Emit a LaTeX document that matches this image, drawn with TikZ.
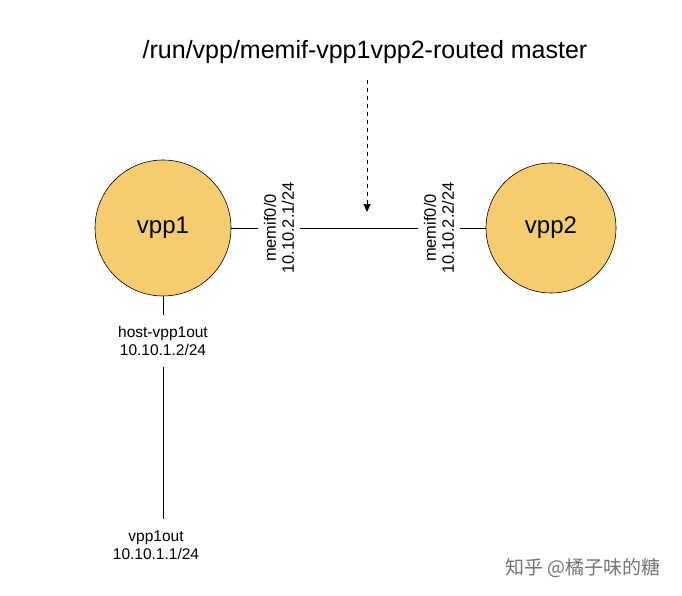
\documentclass[tikz,border=0pt]{standalone}
\usepackage{fontspec}
\setmainfont{Liberation Sans}
\newfontfamily\cjk{Noto Sans CJK SC}
\usetikzlibrary{arrows.meta}
\begin{document}
\begin{tikzpicture}[x=1pt,y=-1pt,
  dev/.style={circle,draw=black,line width=0.6pt,fill={rgb,255:red,245;green,205;blue,110},minimum size=136pt,font=\fontsize{24}{28}\selectfont},
  lbl/.style={fill=white,align=center,inner sep=2pt},
  ln/.style={line width=0.7pt}]
\useasboundingbox (0,0) rectangle (682,596);
\node[dev] (v1) at (163,228) {vpp1};
\node[dev,minimum size=130pt] (v2) at (551,228) {vpp2};
\node[lbl,rotate=90,minimum width=103pt,minimum height=42pt,font=\fontsize{16.5}{18}\selectfont] (m1) at (279,228) {memif0/0\\10.10.2.1/24};
\node[lbl,rotate=90,minimum width=103pt,minimum height=42pt,font=\fontsize{16.5}{18}\selectfont] (m2) at (439,228) {memif0/0\\10.10.2.2/24};
\node[lbl,minimum width=128pt,minimum height=52pt,font=\fontsize{15.5}{18}\selectfont] (h) at (163,341) {host-vpp1out\\10.10.1.2/24};
\node[lbl,minimum width=118pt,minimum height=52pt,font=\fontsize{15.5}{18}\selectfont] (o) at (156,545) {vpp1out\\10.10.1.1/24};
\node[font=\fontsize{25}{28}\selectfont] (t) at (365,52) {/run/vpp/memif-vpp1vpp2-routed master};
\coordinate (a) at (367,212);
\coordinate (ta) at (367,80);
\coordinate (oe) at (163,519);
\draw[ln] (v1.east) -- (m1.north);
\draw[ln] (m1.south) -- (m2.north);
\draw[ln] (m2.south) -- (v2.west);
\draw[ln] (v1.south) -- (h.north);
\draw[ln] (h.south) -- (oe);
\draw[ln,dash pattern=on 4pt off 4pt,-{Triangle[length=8pt,width=7pt]}] (ta) -- (a);
\node[text=black!55,font=\cjk\fontsize{19}{22}\selectfont] (w) at (583,568) {知乎 @橘子味的糖};
\end{tikzpicture}
\end{document}
